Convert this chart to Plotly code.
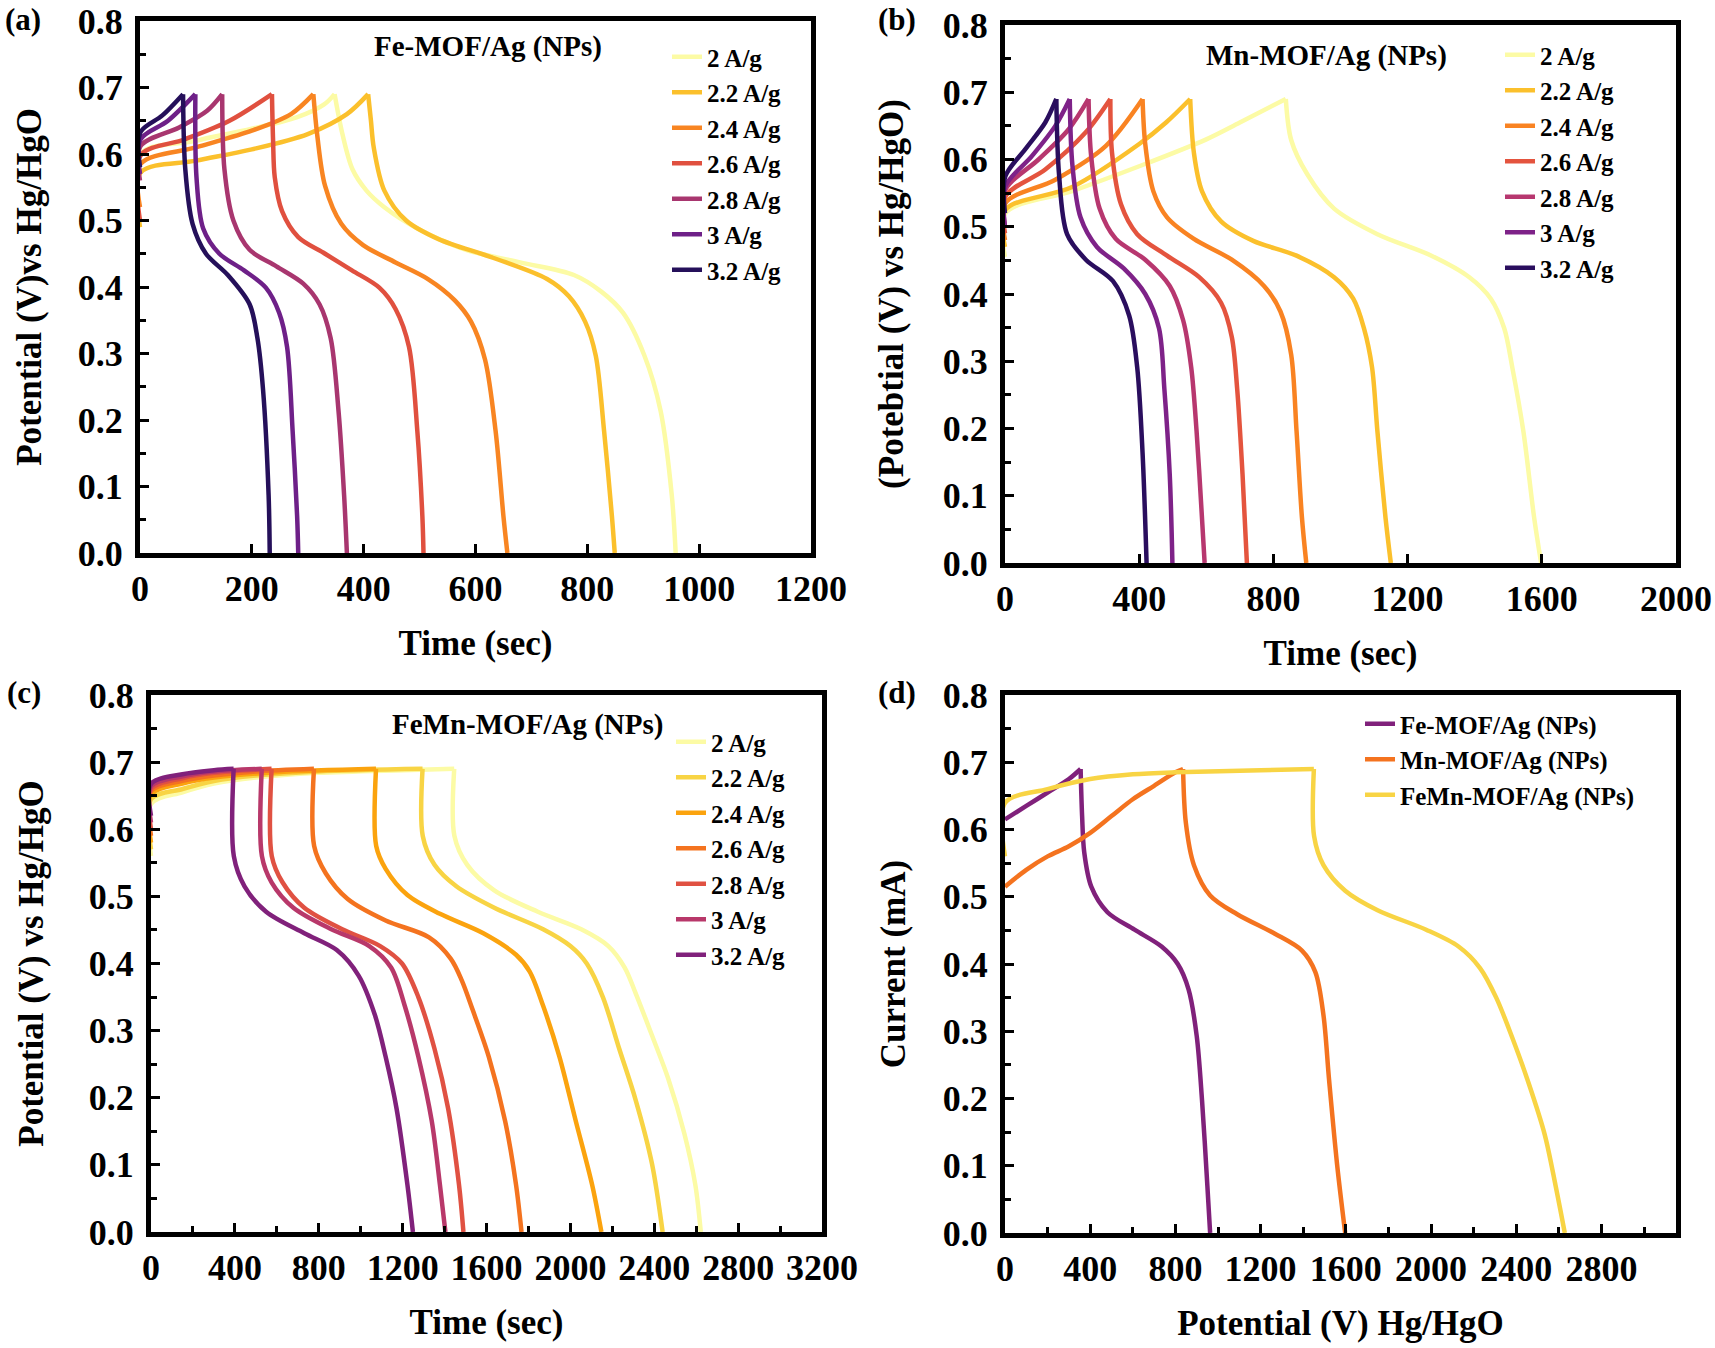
import plotly.graph_objects as go

W, H = 1715, 1348
FONT = "Liberation Serif"

RATES = ["2 A/g", "2.2 A/g", "2.4 A/g", "2.6 A/g", "2.8 A/g", "3 A/g", "3.2 A/g"]

# ---------------- (a) Fe-MOF/Ag (NPs) ----------------
FE_T = [
    [0, 1, 100, 200, 280, 330, 348, 362, 380, 405, 437, 496, 583, 680, 776, 825, 864, 902, 931, 951, 958],
    [0, 1, 100, 200, 300, 370, 408, 413, 418, 437, 476, 534, 631, 728, 767, 796, 815, 830, 844, 849],
    [0, 1, 100, 200, 270, 310, 317, 331, 360, 399, 457, 515, 563, 592, 617, 636, 650, 657],
    [0, 1, 80, 160, 236, 238, 241, 254, 283, 331, 379, 428, 457, 481, 496, 505, 507],
    [0, 1, 70, 120, 147, 151, 167, 196, 244, 292, 321, 341, 355, 365, 370],
    [0, 1, 50, 99, 101, 113, 142, 186, 225, 249, 263, 273, 281, 283],
    [0, 1, 40, 77, 81, 94, 118, 157, 196, 210, 220, 230, 232],
]
FE_V = [
    [0.49, 0.600, 0.620, 0.638, 0.655, 0.675, 0.690, 0.630, 0.577, 0.545, 0.520, 0.488, 0.456, 0.437, 0.418, 0.393, 0.361, 0.297, 0.214, 0.087, 0.0],
    [0.49, 0.572, 0.590, 0.607, 0.630, 0.660, 0.690, 0.650, 0.610, 0.545, 0.500, 0.472, 0.444, 0.412, 0.386, 0.348, 0.297, 0.183, 0.055, 0.0],
    [0.52, 0.585, 0.610, 0.635, 0.660, 0.690, 0.628, 0.552, 0.495, 0.463, 0.437, 0.412, 0.380, 0.348, 0.291, 0.183, 0.055, 0.0],
    [0.50, 0.598, 0.622, 0.650, 0.690, 0.620, 0.565, 0.514, 0.475, 0.450, 0.425, 0.399, 0.367, 0.310, 0.183, 0.055, 0.0],
    [0.56, 0.612, 0.640, 0.665, 0.690, 0.577, 0.500, 0.456, 0.431, 0.405, 0.374, 0.323, 0.214, 0.087, 0.0],
    [0.57, 0.622, 0.650, 0.690, 0.565, 0.488, 0.450, 0.425, 0.399, 0.361, 0.310, 0.183, 0.055, 0.0],
    [0.58, 0.633, 0.658, 0.690, 0.577, 0.495, 0.450, 0.418, 0.374, 0.323, 0.246, 0.087, 0.0],
]
FE_COLORS = ["#FCFBA5", "#FBC02C", "#F88522", "#E0503F", "#A8366F", "#6E2088", "#25105A"]

# ---------------- (b) Mn-MOF/Ag (NPs) ----------------
MN_T = [
    [0, 1, 200, 400, 600, 700, 837, 853, 901, 981, 1110, 1271, 1384, 1448, 1488, 1512, 1545, 1577, 1598],
    [0, 1, 200, 400, 480, 552, 563, 587, 644, 740, 869, 981, 1038, 1070, 1094, 1110, 1134, 1150],
    [0, 1, 150, 300, 410, 418, 442, 483, 563, 676, 772, 821, 853, 869, 885, 898],
    [0, 1, 120, 240, 314, 319, 346, 394, 483, 579, 644, 676, 692, 708, 721],
    [0, 1, 100, 190, 249, 257, 282, 330, 418, 491, 531, 555, 571, 587, 595],
    [0, 1, 80, 150, 193, 201, 225, 274, 354, 418, 459, 475, 491, 499],
    [0, 1, 60, 120, 153, 161, 185, 241, 322, 370, 394, 410, 422],
]
MN_V = [
    [0.455, 0.520, 0.553, 0.590, 0.630, 0.655, 0.690, 0.629, 0.578, 0.527, 0.489, 0.457, 0.425, 0.393, 0.349, 0.291, 0.196, 0.068, 0.0],
    [0.470, 0.525, 0.559, 0.623, 0.655, 0.690, 0.610, 0.553, 0.508, 0.479, 0.457, 0.425, 0.393, 0.349, 0.291, 0.196, 0.068, 0.0],
    [0.480, 0.535, 0.570, 0.620, 0.690, 0.623, 0.553, 0.514, 0.482, 0.451, 0.412, 0.374, 0.310, 0.196, 0.068, 0.0],
    [0.490, 0.545, 0.585, 0.640, 0.690, 0.610, 0.533, 0.489, 0.457, 0.425, 0.387, 0.336, 0.259, 0.132, 0.0],
    [0.500, 0.555, 0.600, 0.645, 0.690, 0.604, 0.527, 0.482, 0.451, 0.412, 0.361, 0.291, 0.196, 0.068, 0.0],
    [0.500, 0.560, 0.605, 0.650, 0.690, 0.591, 0.514, 0.470, 0.438, 0.400, 0.349, 0.259, 0.132, 0.0],
    [0.520, 0.575, 0.615, 0.655, 0.690, 0.578, 0.489, 0.451, 0.419, 0.368, 0.291, 0.164, 0.0],
]
MN_COLORS = ["#FCFBA5", "#FBC02C", "#F98322", "#E4543E", "#B7376F", "#7E2288", "#2A0E5E"]

# ---------------- (c) FeMn-MOF/Ag (NPs) ----------------
FEMN_T = [
    [0, 1, 150, 300, 500, 800, 1200, 1446, 1447, 1508, 1637, 1845, 2052, 2181, 2259, 2311, 2389, 2466, 2544, 2596, 2622],
    [0, 1, 150, 300, 500, 800, 1295, 1296, 1352, 1456, 1637, 1870, 2000, 2078, 2155, 2233, 2311, 2389, 2440],
    [0, 1, 150, 300, 600, 1073, 1074, 1119, 1223, 1378, 1585, 1741, 1806, 1870, 1948, 2026, 2104, 2148],
    [0, 1, 150, 300, 500, 777, 778, 834, 938, 1119, 1326, 1430, 1482, 1534, 1611, 1689, 1741, 1767],
    [0, 1, 150, 300, 575, 576, 627, 731, 912, 1093, 1197, 1275, 1352, 1417, 1469, 1490],
    [0, 1, 150, 300, 528, 529, 575, 679, 860, 1041, 1145, 1210, 1275, 1339, 1378, 1404],
    [0, 1, 150, 300, 394, 395, 446, 549, 731, 886, 990, 1067, 1119, 1171, 1223, 1249],
]
FEMN_V = [
    [0.560, 0.638, 0.655, 0.668, 0.677, 0.684, 0.688, 0.690, 0.590, 0.547, 0.509, 0.477, 0.451, 0.426, 0.394, 0.356, 0.293, 0.229, 0.146, 0.070, 0.0],
    [0.570, 0.645, 0.660, 0.672, 0.680, 0.686, 0.690, 0.590, 0.547, 0.515, 0.483, 0.451, 0.426, 0.400, 0.350, 0.273, 0.197, 0.102, 0.0],
    [0.580, 0.652, 0.668, 0.677, 0.685, 0.690, 0.575, 0.541, 0.502, 0.474, 0.445, 0.413, 0.388, 0.337, 0.261, 0.165, 0.070, 0.0],
    [0.590, 0.657, 0.672, 0.680, 0.686, 0.690, 0.575, 0.534, 0.496, 0.464, 0.439, 0.407, 0.375, 0.331, 0.261, 0.165, 0.070, 0.0],
    [0.600, 0.660, 0.676, 0.684, 0.690, 0.560, 0.521, 0.483, 0.451, 0.426, 0.400, 0.350, 0.273, 0.184, 0.070, 0.0],
    [0.610, 0.664, 0.679, 0.686, 0.690, 0.560, 0.521, 0.483, 0.451, 0.426, 0.394, 0.337, 0.261, 0.165, 0.070, 0.0],
    [0.620, 0.668, 0.682, 0.688, 0.690, 0.560, 0.515, 0.477, 0.445, 0.420, 0.382, 0.324, 0.261, 0.184, 0.070, 0.0],
]
FEMN_COLORS = ["#FCFBA5", "#F8D444", "#FBA30E", "#F4731F", "#E05142", "#B8386A", "#80217B"]

# ---------------- (d) comparison ----------------
CMP_NAMES = ["Fe-MOF/Ag (NPs)", "Mn-MOF/Ag (NPs)", "FeMn-MOF/Ag (NPs)"]
CMP_T = [
    [0, 100, 200, 300, 355, 362, 372, 405, 481, 608, 735, 811, 862, 900, 925, 950, 963],
    [0, 100, 200, 300, 400, 500, 600, 700, 800, 836, 849, 887, 963, 1090, 1267, 1394, 1457, 1495, 1521, 1559, 1597],
    [0, 1, 200, 400, 600, 800, 1200, 1450, 1451, 1495, 1597, 1749, 1977, 2129, 2230, 2306, 2382, 2458, 2534, 2585, 2628],
]
CMP_V = [
    [0.615, 0.635, 0.655, 0.675, 0.690, 0.620, 0.566, 0.515, 0.477, 0.451, 0.426, 0.400, 0.362, 0.293, 0.197, 0.070, 0.0],
    [0.515, 0.540, 0.560, 0.575, 0.595, 0.620, 0.645, 0.665, 0.685, 0.690, 0.610, 0.547, 0.502, 0.474, 0.445, 0.420, 0.388, 0.324, 0.229, 0.102, 0.0],
    [0.560, 0.640, 0.660, 0.675, 0.682, 0.685, 0.688, 0.690, 0.590, 0.547, 0.509, 0.480, 0.451, 0.426, 0.394, 0.350, 0.290, 0.223, 0.146, 0.070, 0.0],
]
CMP_COLORS = ["#80217B", "#F4731F", "#F8D444"]

# ---------------- layout geometry (pixels) ----------------
PANELS = {
    "a": dict(x=(140, 811), y=(21, 553), xr=(0, 1200), xd=200, xm=None, ys=27),
    "b": dict(x=(1005, 1676), y=(25, 563), xr=(0, 2000), xd=400, xm=None, ys=30),
    "c": dict(x=(151, 822), y=(695, 1232), xr=(0, 3200), xd=400, xm=200, ys=36),
    "d": dict(x=(1005, 1676), y=(695, 1233), xr=(0, 3150), xd=400, xm=200, ys=28),
}


def px(v):
    return v / W


def py(v):
    return 1 - v / H


fig = go.Figure()


def add_series(ts, vs, names, colors, axis_id, legend_id):
    for t, v, n, c in zip(ts, vs, names, colors):
        k = v.index(max(v))  # end of charging branch
        common = dict(mode="lines", line=dict(color=c, width=4.5, shape="spline", smoothing=0.9),
                      xaxis="x" + axis_id, yaxis="y" + axis_id, legend=legend_id,
                      legendgroup=legend_id + n, name=n)
        fig.add_trace(go.Scatter(x=t[:k + 1], y=v[:k + 1], showlegend=True, **common))
        fig.add_trace(go.Scatter(x=t[k:], y=v[k:], showlegend=False, **common))


add_series(FE_T, FE_V, RATES, FE_COLORS, "", "legend")
add_series(MN_T, MN_V, RATES, MN_COLORS, "2", "legend2")
add_series(FEMN_T, FEMN_V, RATES, FEMN_COLORS, "3", "legend3")
add_series(CMP_T, CMP_V, CMP_NAMES, CMP_COLORS, "4", "legend4")

TICKFONT = dict(family=FONT, size=36, color="black", weight="bold")
TITLEFONT = dict(family=FONT, size=35, color="black", weight="bold")


def axis_common():
    return dict(
        showline=True, linewidth=5, linecolor="black", mirror=True,
        ticks="inside", ticklen=9, tickwidth=3, tickcolor="black",
        tickfont=TICKFONT, showgrid=False, zeroline=False, automargin=False,
        ticklabeloverflow="allow",
    )


XTITLES = {"a": "Time (sec)", "b": "Time (sec)", "c": "Time (sec)", "d": "Potential (V) Hg/HgO"}
YTITLES = {"a": "Potential (V)vs Hg/HgO", "b": "(Potebtial (V) vs Hg/HgO)",
           "c": "Potential (V) vs Hg/HgO", "d": "Current (mA)"}
IDS = {"a": "", "b": "2", "c": "3", "d": "4"}

layout = dict(
    width=W, height=H, margin=dict(l=0, r=0, t=0, b=0),
    paper_bgcolor="white", plot_bgcolor="white", template="none",
    font=dict(family=FONT, color="black"),
)

for k, p in PANELS.items():
    i = IDS[k]
    xa = axis_common()
    xa.update(domain=[px(p["x"][0]), px(p["x"][1])], range=list(p["xr"]), dtick=p["xd"],
              tick0=0, anchor="y" + i, ticklabelstandoff=0,
              title=dict(text=XTITLES[k], font=TITLEFONT, standoff=24))
    if p["xm"]:
        xa["minor"] = dict(ticks="inside", ticklen=6, tickwidth=3, tickcolor="black", dtick=p["xm"])
    ya = axis_common()
    ya.update(domain=[py(p["y"][1]), py(p["y"][0])], range=[0, 0.8], dtick=0.1, tick0=0,
              tickformat=".1f", anchor="x" + i, ticklabelstandoff=5,
              title=dict(text=YTITLES[k], font=TITLEFONT, standoff=p["ys"]),
              minor=dict(ticks="inside", ticklen=6, tickwidth=3, tickcolor="black", dtick=0.05))
    layout["xaxis" + i] = xa
    layout["yaxis" + i] = ya

LEGFONT = dict(family=FONT, size=25, color="black", weight="bold")


def legend_at(xp, ytop):
    return dict(x=px(xp), y=py(ytop), xanchor="left", yanchor="top", font=LEGFONT,
                bgcolor="rgba(0,0,0,0)", tracegroupgap=0, itemwidth=30)


layout["legend"] = legend_at(667, 34)
layout["legend2"] = legend_at(1500, 32)
layout["legend3"] = legend_at(671, 719)
layout["legend4"] = legend_at(1360, 701)

annots = []
for txt, x, y in [("(a)", 23, 19), ("(b)", 897, 20), ("(c)", 24, 692), ("(d)", 897, 692)]:
    annots.append(dict(text=txt, x=px(x), y=py(y), xref="paper", yref="paper",
                       xanchor="center", yanchor="middle", showarrow=False,
                       font=dict(family=FONT, size=31, color="black", weight="bold")))
for txt, x, y in [("Fe-MOF/Ag (NPs)", 488, 46), ("Mn-MOF/Ag (NPs)", 1326, 55),
                  ("FeMn-MOF/Ag (NPs)", 527, 725)]:
    annots.append(dict(text=txt, x=px(x), y=py(y), xref="paper", yref="paper",
                       xanchor="center", yanchor="middle", showarrow=False,
                       font=dict(family=FONT, size=29, color="black", weight="bold")))
layout["annotations"] = annots

fig.update_layout(**layout)
fig.write_html("out.html")
